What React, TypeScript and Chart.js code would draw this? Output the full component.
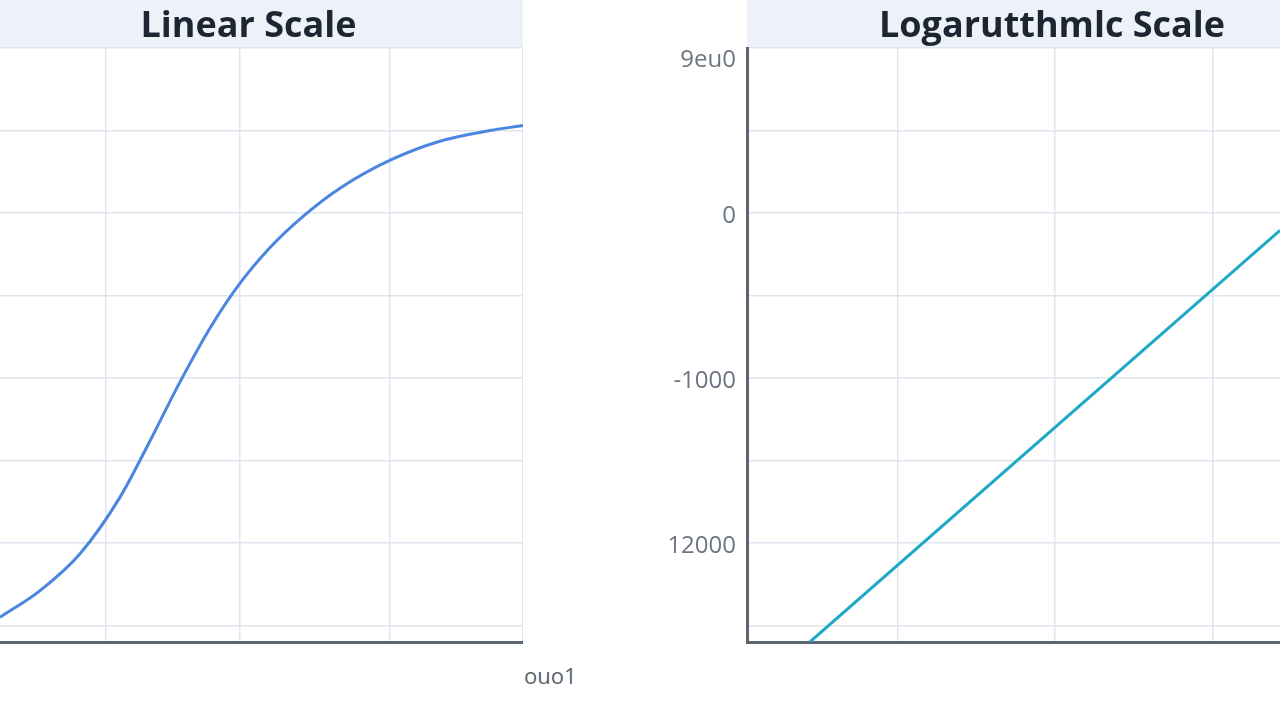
import React, { useEffect, useRef } from "react";
import { Chart, registerables } from "chart.js";
Chart.register(...registerables);

// ---- data ----
const linearTitle = "Linear Scale";
const logTitle = "Logarutthmlc Scale";
const bottomLabel = "ouo1";

const linearX = [0, 0.76, 1.53, 2.29, 2.87, 3.44, 4.02, 4.59, 5.16, 5.74, 6.5, 7.46, 8.41, 9.37, 10];
const linearY = [0.1, 0.42, 0.87, 1.55, 2.24, 2.95, 3.61, 4.15, 4.58, 4.93, 5.3, 5.64, 5.87, 6.0, 6.06];

const logX = [0.44, 3.43];
const logY = [-0.2, 4.79];

const yTickValues = [0, 1, 2, 3, 4, 5, 6, 7];
const logTickLabels = ["", "12000", "", "-1000", "", "0", "", "9eu0"];
const linearXTicks = [2.03, 4.59, 7.46, 10];
const logXTicks = [1, 2, 3, 4];

const GRID = "rgba(219,228,237,0.95)";
const AXIS = "#5b6570";
const BAND = "#edf2f8";

const bandPlugin = {
  id: "band",
  beforeDraw(chart: any) {
    const { ctx, chartArea } = chart;
    ctx.save();
    ctx.fillStyle = BAND;
    ctx.fillRect(chartArea.left, 0, chartArea.right - chartArea.left, chartArea.top);
    ctx.restore();
  },
};

const titleOpts = (text: string) => ({
  display: true,
  text,
  color: "#1c2531",
  font: { family: "'Open Sans', sans-serif", size: 36, weight: "bold" as const, lineHeight: 1 },
  padding: { top: 9, bottom: 3 },
});

function LinearChart() {
  const ref = useRef<HTMLCanvasElement>(null);
  useEffect(() => {
    const chart = new Chart(ref.current!, {
      type: "line",
      data: {
        datasets: [
          {
            data: linearX.map((x, i) => ({ x, y: linearY[i] })),
            borderColor: "#4a86df",
            borderWidth: 3,
            pointRadius: 0,
            cubicInterpolationMode: "monotone",
            fill: false,
          },
        ],
      },
      options: {
        responsive: false,
        animation: false,
        layout: { padding: 0 },
        plugins: { legend: { display: false }, tooltip: { enabled: false }, title: titleOpts(linearTitle) },
        scales: {
          x: {
            type: "linear",
            min: 0,
            max: 10,
            afterBuildTicks: (s: any) => {
              s.ticks = linearXTicks.map((v) => ({ value: v }));
            },
            afterFit: (s: any) => {
              s.height = 58;
            },
            ticks: { display: false },
            grid: { color: GRID, lineWidth: 1.5, drawTicks: false },
            border: { display: true, color: AXIS, width: 3 },
          },
          y: {
            type: "linear",
            min: -0.2,
            max: 7,
            afterBuildTicks: (s: any) => {
              s.ticks = yTickValues.map((v) => ({ value: v }));
            },
            afterFit: (s: any) => {
              s.width = 26;
            },
            ticks: { display: false },
            grid: { color: GRID, lineWidth: 1.5, drawTicks: false },
            border: { display: false },
          },
        },
      },
      plugins: [bandPlugin],
    });
    return () => chart.destroy();
  }, []);
  return <canvas ref={ref} width={549} height={700} style={{ display: "block" }} />;
}

function LogChart() {
  const ref = useRef<HTMLCanvasElement>(null);
  useEffect(() => {
    const chart = new Chart(ref.current!, {
      type: "line",
      data: {
        datasets: [
          {
            data: logX.map((x, i) => ({ x, y: logY[i] })),
            borderColor: "#1fa9c6",
            borderWidth: 3,
            pointRadius: 0,
            fill: false,
          },
        ],
      },
      options: {
        responsive: false,
        animation: false,
        layout: { padding: 0 },
        plugins: { legend: { display: false }, tooltip: { enabled: false }, title: titleOpts(logTitle) },
        scales: {
          x: {
            type: "linear",
            min: 0.04,
            max: 4.6,
            afterBuildTicks: (s: any) => {
              s.ticks = logXTicks.map((v) => ({ value: v }));
            },
            afterFit: (s: any) => {
              s.height = 58;
            },
            ticks: { display: false },
            grid: { color: GRID, lineWidth: 1.5, drawTicks: false },
            border: { display: true, color: AXIS, width: 3 },
          },
          y: {
            type: "linear",
            min: -0.2,
            max: 7,
            afterBuildTicks: (s: any) => {
              s.ticks = yTickValues.map((v) => ({ value: v }));
            },
            afterFit: (s: any) => {
              s.width = 107;
            },
            ticks: {
              padding: 11,
              color: "#6c7580",
              font: { family: "'Open Sans', sans-serif", size: 24, lineHeight: 0.25 },
              callback: (v: any) => {
                const lab = logTickLabels[Math.round(Number(v))] ?? "";
                if (!lab) return "";
                // shift labels slightly downward (multi-line offset trick)
                return Number(v) === 7 ? ["", "", "", "", lab] : ["", lab];
              },
            },
            grid: { color: GRID, lineWidth: 1.5, drawTicks: false },
            border: { display: true, color: AXIS, width: 3 },
          },
        },
      },
      plugins: [bandPlugin],
    });
    return () => chart.destroy();
  }, []);
  return <canvas ref={ref} width={824} height={700} style={{ display: "block" }} />;
}

export default function App() {
  return (
    <div
      style={{
        position: "fixed",
        left: 0,
        top: 0,
        width: 1280,
        height: 720,
        overflow: "hidden",
        background: "#ffffff",
      }}
    >
      <div style={{ position: "absolute", left: -26, top: 0 }}>
        <LinearChart />
      </div>
      <div style={{ position: "absolute", left: 640, top: 0 }}>
        <LogChart />
      </div>
      <div
        style={{
          position: "absolute",
          left: 524,
          top: 660,
          fontFamily: "'Open Sans', sans-serif",
          fontSize: 22,
          color: "#59626b",
        }}
      >
        {bottomLabel}
      </div>
    </div>
  );
}
